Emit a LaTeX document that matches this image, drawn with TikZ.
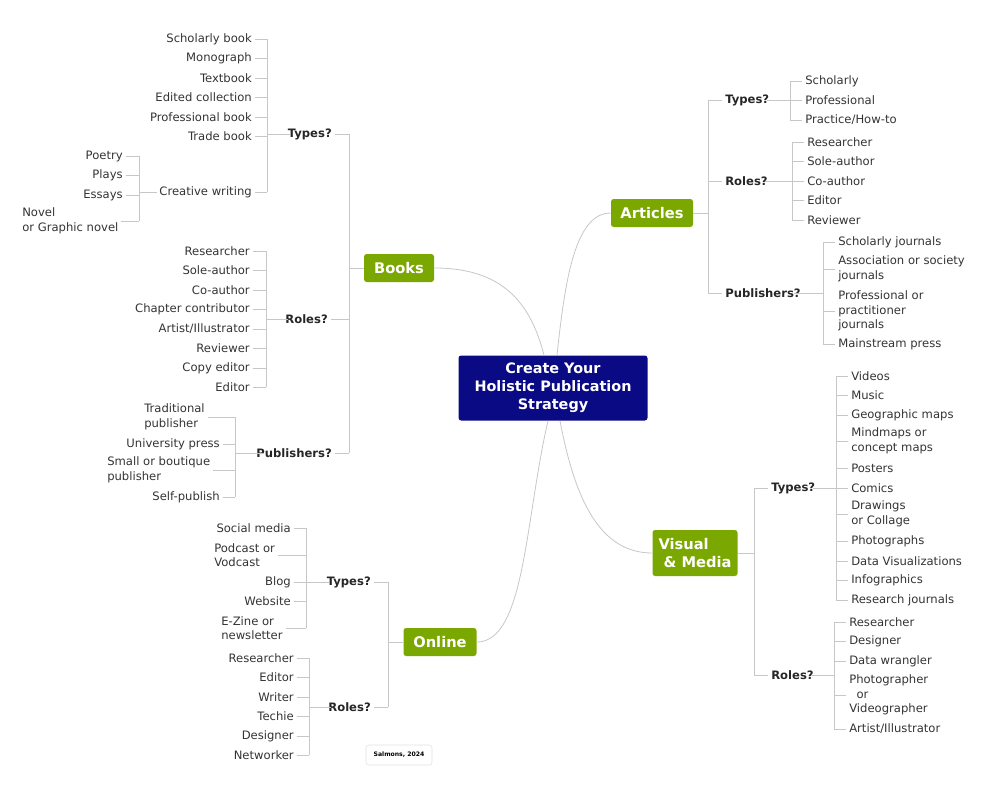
\documentclass[tikz,border=0pt]{standalone}
\usepackage{fontspec}
\setmainfont{DejaVu Sans}
\begin{document}
\begin{tikzpicture}[x=0.75pt,y=-0.75pt,
  lt/.style={inner sep=0pt,text=black!80,font=\fontsize{8.7}{10.9}\selectfont,align=left},
  qt/.style={inner sep=0pt,text=black!85,font=\fontsize{8.7}{10.9}\selectfont\bfseries},
  ln/.style={draw=black!22,line width=0.6pt},
  gbox/.style={fill=gcol,rounded corners=2pt,text=white,font=\fontsize{11}{13}\selectfont\bfseries,align=left,inner sep=0pt},
  ]
\definecolor{gcol}{HTML}{7BA800}
\definecolor{navy}{HTML}{0A0A85}
\useasboundingbox (0,0) rectangle (1000,786);
\newcommand\Lc[5]{\node[lt,anchor=east] (#1) at (#3,#4) {#5}; \draw[ln,shorten <=2pt] (#1.east) -- (#2,#4);}
\newcommand\Rc[5]{\node[lt,anchor=west] (#1) at (#3,#4) {#5}; \draw[ln,shorten <=2pt] (#1.west) -- (#2,#4);}
\newcommand\Lw[5]{\node[lt,anchor=west] (#1) at (#3,#4) {#5}; \draw[ln,shorten <=2pt] (#1.east) -- (#2,#4);}
% center
\node[fill=navy,rounded corners=2pt,minimum width=189*0.75pt,minimum height=65*0.75pt,text=white,font=\fontsize{10.8}{13.6}\selectfont\bfseries,align=center,inner sep=0pt] (c) at (553,388) {Create Your\\Holistic Publication\\Strategy};
% main nodes
\node[gbox,minimum width=70*0.75pt,minimum height=28*0.75pt,align=center] (books) at (399,268) {Books};
\node[gbox,minimum width=82*0.75pt,minimum height=28*0.75pt,align=center] (art) at (652,213) {Articles};
\node[gbox,minimum width=85*0.75pt,minimum height=46*0.75pt] (vis) at (695,553) {Visual\\\ \& Media};
\node[gbox,minimum width=73*0.75pt,minimum height=28*0.75pt,align=center] (onl) at (440,642) {Online};
\node[draw=black!12,rounded corners=2pt,minimum width=66*0.75pt,minimum height=20*0.75pt,font=\fontsize{4.6}{5}\selectfont\bfseries,inner sep=0pt] (sal) at (399,755) {Salmons, 2024};
% curves
\draw[ln] ([xshift=-9*0.75pt]c.north) .. controls (530,300) and (500,268) .. (books.east);
\draw[ln] ([xshift=4*0.75pt]c.north) .. controls (565,280) and (575,213) .. (art.west);
\draw[ln] ([xshift=7*0.75pt]c.south) .. controls (575,500) and (600,553) .. (vis.west);
\draw[ln] ([xshift=-5*0.75pt]c.south) .. controls (525,520) and (525,642) .. (onl.east);
% ---------- Books
\draw[ln] (349,134) -- (349,453);
\draw[ln] (books.west) -- (349,268);
\Lc{bt}{349}{332}{134}{\phantom{Types?}}
\Lc{br}{349}{328}{319}{\phantom{Roles?}}
\Lc{bp}{349}{332}{453}{\phantom{Publishers?}}
\node[qt,anchor=east] at (bt.east) {Types?};
\node[qt,anchor=east] at (br.east) {Roles?};
\node[qt,anchor=east] at (bp.east) {Publishers?};
\draw[ln] (267,39) -- (267,192);
\draw[ln] ([xshift=-2pt]bt.west) -- (267,134);
\Lc{b1}{267}{252}{39}{Scholarly book}
\Lc{b2}{267}{252}{58}{Monograph}
\Lc{b3}{267}{252}{78}{Textbook}
\Lc{b4}{267}{252}{97}{Edited collection}
\Lc{b5}{267}{252}{117}{Professional book}
\Lc{b6}{267}{252}{136}{Trade book}
\Lc{b7}{267}{252}{192}{Creative writing}
\draw[ln] (139,156) -- (139,221);
\draw[ln,shorten >=2pt] (139,192) -- (b7.west);
\Lc{c1}{139}{123}{156}{Poetry}
\Lc{c2}{139}{123}{175}{Plays}
\Lc{c3}{139}{123}{195}{Essays}
\Lw{c4}{139}{22}{221}{Novel\\or Graphic novel}
\draw[ln] (266,251) -- (266,387);
\draw[ln] ([xshift=-2pt]br.west) -- (266,319);
\Lc{r1}{266}{250}{251}{Researcher}
\Lc{r2}{266}{250}{270}{Sole-author}
\Lc{r3}{266}{250}{290}{Co-author}
\Lc{r4}{266}{250}{309}{Chapter contributor}
\Lc{r5}{266}{250}{329}{Artist/Illustrator}
\Lc{r6}{266}{250}{348}{Reviewer}
\Lc{r7}{266}{250}{368}{Copy editor}
\Lc{r8}{266}{250}{387}{Editor}
\draw[ln] (235,417) -- (235,497);
\draw[ln] ([xshift=-2pt]bp.west) -- (235,453);
\Lw{p1}{235}{144}{417}{Traditional\\publisher}
\Lc{p2}{235}{220}{444}{University press}
\Lw{p3}{235}{107}{470}{Small or boutique\\publisher}
\Lc{p4}{235}{220}{497}{Self-publish}
% ---------- Articles
\draw[ln] (708,100) -- (708,293);
\draw[ln] (art.east) -- (708,213);
\Rc{at}{708}{725}{100}{\phantom{Types?}}
\Rc{ar}{708}{725}{181}{\phantom{Roles?}}
\Rc{ap}{708}{725}{293}{\phantom{Publishers?}}
\node[qt,anchor=west] at (at.west) {Types?};
\node[qt,anchor=west] at (ar.west) {Roles?};
\node[qt,anchor=west] at (ap.west) {Publishers?};
\draw[ln] (790,81) -- (790,120);
\draw[ln] ([xshift=2pt]at.east) -- (790,100);
\Rc{a1}{790}{805}{81}{Scholarly}
\Rc{a2}{790}{805}{100}{Professional}
\Rc{a3}{790}{805}{120}{Practice/How-to}
\draw[ln] (792,142) -- (792,220);
\draw[ln] ([xshift=2pt]ar.east) -- (792,181);
\Rc{a4}{792}{807}{142}{Researcher}
\Rc{a5}{792}{807}{161}{Sole-author}
\Rc{a6}{792}{807}{181}{Co-author}
\Rc{a7}{792}{807}{200}{Editor}
\Rc{a8}{792}{807}{220}{Reviewer}
\draw[ln] (823,242) -- (823,344);
\draw[ln] ([xshift=2pt]ap.east) -- (823,293);
\Rc{a9}{823}{838}{242}{Scholarly journals}
\Rc{a10}{823}{838}{269}{Association or society\\journals}
\Rc{a11}{823}{838}{311}{Professional or\\practitioner\\journals}
\Rc{a12}{823}{838}{344}{Mainstream press}
% ---------- Visual
\draw[ln] (754,488) -- (754,675);
\draw[ln] (vis.east) -- (754,553);
\Rc{vt}{754}{771}{488}{\phantom{Types?}}
\Rc{vr}{754}{771}{675}{\phantom{Roles?}}
\node[qt,anchor=west] at (vt.west) {Types?};
\node[qt,anchor=west] at (vr.west) {Roles?};
\draw[ln] (836,376) -- (836,600);
\draw[ln] ([xshift=2pt]vt.east) -- (836,488);
\Rc{v1}{836}{851}{376}{Videos}
\Rc{v2}{836}{851}{395}{Music}
\Rc{v3}{836}{851}{415}{Geographic maps}
\Rc{v4}{836}{851}{441}{Mindmaps or\\concept maps}
\Rc{v5}{836}{851}{468}{Posters}
\Rc{v6}{836}{851}{488}{Comics}
\Rc{v7}{836}{851}{514}{Drawings\\or Collage}
\Rc{v8}{836}{851}{541}{Photographs}
\Rc{v9}{836}{851}{561}{Data Visualizations}
\Rc{v10}{836}{851}{580}{Infographics}
\Rc{v11}{836}{851}{600}{Research journals}
\draw[ln] (834,622) -- (834,729);
\draw[ln] ([xshift=2pt]vr.east) -- (834,675);
\Rc{w1}{834}{849}{622}{Researcher}
\Rc{w2}{834}{849}{641}{Designer}
\Rc{w3}{834}{849}{661}{Data wrangler}
\Rc{w4}{834}{849}{695}{Photographer\\\ \ or\\Videographer}
\Rc{w5}{834}{849}{729}{Artist/Illustrator}
% ---------- Online
\draw[ln] (388,582) -- (388,707);
\draw[ln] (onl.west) -- (388,642);
\Lc{ot}{388}{371}{582}{\phantom{Types?}}
\Lc{or}{388}{371}{707}{\phantom{Roles?}}
\node[qt,anchor=east] at (ot.east) {Types?};
\node[qt,anchor=east] at (or.east) {Roles?};
\draw[ln] (306,528) -- (306,628);
\draw[ln] ([xshift=-2pt]ot.west) -- (306,582);
\Lc{o1}{306}{291}{528}{Social media}
\Lw{o2}{306}{214}{555}{Podcast or\\Vodcast}
\Lc{o3}{306}{291}{582}{Blog}
\Lc{o4}{306}{291}{601}{Website}
\Lw{o5}{306}{221}{628}{E-Zine or\\newsletter}
\draw[ln] (309,658) -- (309,755);
\draw[ln] ([xshift=-2pt]or.west) -- (309,707);
\Lc{q1}{309}{294}{658}{Researcher}
\Lc{q2}{309}{294}{677}{Editor}
\Lc{q3}{309}{294}{697}{Writer}
\Lc{q4}{309}{294}{716}{Techie}
\Lc{q5}{309}{294}{736}{Designer}
\Lc{q6}{309}{294}{755}{Networker}
\end{tikzpicture}
\end{document}
